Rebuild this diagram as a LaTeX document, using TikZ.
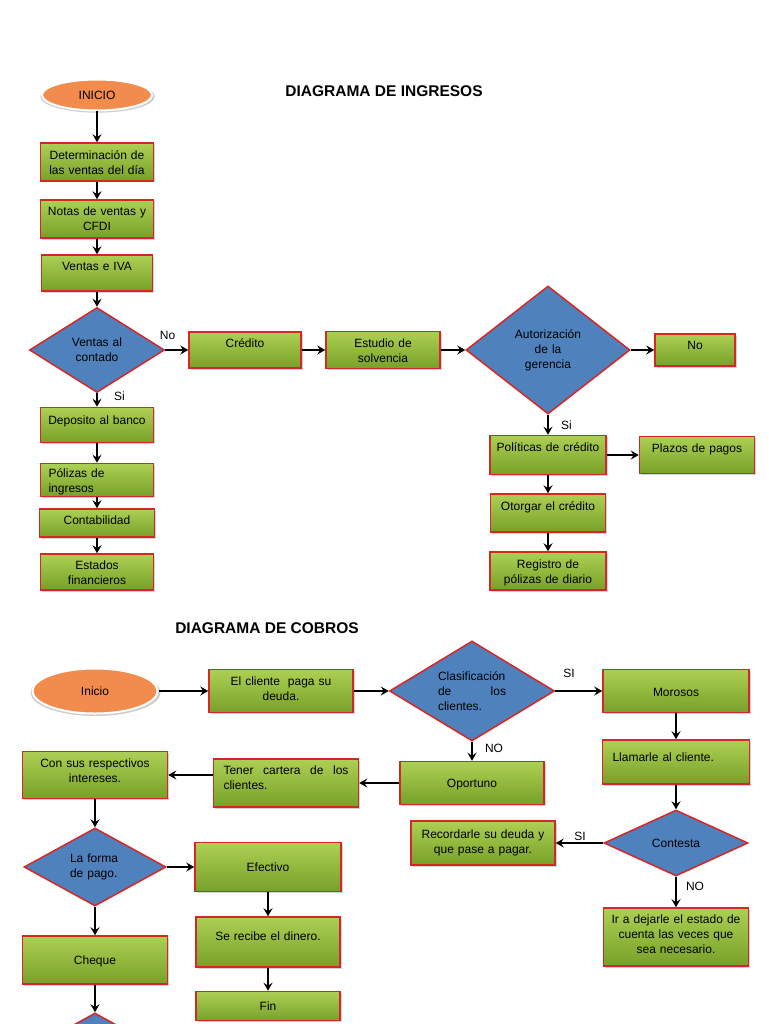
\documentclass[tikz,border=0pt]{standalone}
\usepackage{fontspec}
\setmainfont{Liberation Sans}
\usepackage{tikz}
\usetikzlibrary{positioning,shapes.geometric,arrows.meta,shadows}

\definecolor{boxred}{RGB}{214,38,38}
\definecolor{greentop}{RGB}{172,208,84}
\definecolor{greenbot}{RGB}{120,160,40}
\definecolor{diablue}{RGB}{79,129,189}
\definecolor{iniorange}{RGB}{241,140,78}
\newcommand{\boxfont}{\fontsize{12}{15}\selectfont}
\newcommand{\titlefont}{\fontsize{15.5}{18}\selectfont\bfseries}

\begin{document}
\begin{tikzpicture}[x=1pt,y=-1pt,>={Stealth[length=8pt,width=9pt,inset=3pt]},line width=2pt]
    \tikzstyle{every node}=[font=\boxfont,text=black];
    \tikzstyle{box}=[shape=rectangle,draw=boxred,line width=1.5pt,top color=greentop,bottom color=greenbot,drop shadow={shadow xshift=1.5pt,shadow yshift=-1.5pt,opacity=0.35},inner xsep=4pt,inner ysep=0pt,align=center,text width=105pt];
    \tikzstyle{leftbox}=[box,align=left];
    \tikzstyle{decision}=[shape=diamond,draw=boxred,line width=1.5pt,fill=diablue,inner sep=0pt,align=center];
    \tikzstyle{start}=[shape=ellipse,draw=white,line width=2pt,fill=iniorange,inner sep=0pt,drop shadow={shadow xshift=0.5pt,shadow yshift=-1.5pt,shadow scale=1.04,opacity=0.4}];
    \tikzstyle{lab}=[inner sep=1pt];
    \tikzstyle{title}=[font=\titlefont];

    \useasboundingbox (0,0) rectangle (768,1024);
    \clip (0,0) rectangle (768,1024);

    % diagrama de ingresos
    \node[title] (t1) at (384,91) {DIAGRAMA DE INGRESOS};
    \node[start,minimum width=110pt,minimum height=31pt] (ini1) at (97,95) {INICIO};
    \node[box,text height=16.5pt,text depth=21.5pt] (det) [below of=ini1,node distance=67pt] {Determinación de\\ las ventas del día};
    \node[box,text height=15.5pt,text depth=22.5pt] (notas) [below of=det,node distance=57pt] {Notas de ventas y\\ CFDI};
    \node[box,text width=103pt,text height=15.5pt,text depth=20.5pt] (iva) [below of=notas,node distance=54pt] {Ventas e IVA};
    \node[decision,text width=70pt,aspect=1.59,minimum width=135pt,minimum height=85pt] (dv) [below of=iva,node distance=77pt] {Ventas al\\ contado};
    \node[box,text height=17pt,text depth=18pt] (dep) [below of=dv,node distance=75pt] {Deposito al banco};
    \node[leftbox,inner xsep=8pt,text width=97pt,text height=14pt,text depth=19pt] (pol) [below of=dep,node distance=55pt] {Pólizas de\\ ingresos};
    \node[box,text width=107pt,text height=15.5pt,text depth=12.5pt] (cont) [below of=pol,node distance=43pt] {Contabilidad};
    \node[box,text height=15.5pt,text depth=20.5pt] (edos) [below of=cont,node distance=49pt] {Estados\\ financieros};

    \node[box,text width=104pt,text height=15.5pt,text depth=20.5pt] (cred) [right of=dv,node distance=148pt] {Crédito};
    \node[box,text width=106pt,text height=16pt,text depth=21pt] (est) [right of=cred,node distance=138pt] {Estudio de\\ solvencia};
    \node[decision,text width=80pt,aspect=1.28,minimum width=164pt,minimum height=128pt] (aut) [right of=est,node distance=165pt] {Autorización\\ de la\\ gerencia};
    \node[box,text width=72pt,text height=15.5pt,text depth=16.5pt] (nob) [right of=aut,node distance=147pt] {No};
    \node[box,text width=108pt,text height=16pt,text depth=23pt] (polc) [below of=aut,node distance=105pt] {Políticas de crédito};
    \node[box,text width=107pt,text height=16pt,text depth=21pt] (plaz) [right of=polc,node distance=149pt] {Plazos de pagos};
    \node[box,text width=107pt,text height=16.5pt,text depth=21.5pt] (otor) [below of=polc,node distance=58pt] {Otorgar el crédito};
    \node[box,text width=108pt,text height=16.5pt,text depth=21.5pt] (reg) [below of=otor,node distance=58pt] {Registro de\\ pólizas de diario};

    \draw[->] (ini1) -- (det);
    \draw[->] (det) -- (notas);
    \draw[->] (notas) -- (iva);
    \draw[->] (iva) -- (dv);
    \draw[->] (dv) -- node[lab,right=15pt,pos=0.25] {Si} (dep);
    \draw[->] (dep) -- (pol);
    \draw[->] (pol) -- (cont);
    \draw[->] (cont) -- (edos);
    \draw[->] (dv) -- node[lab,above=8pt,pos=0.1] {No} (cred);
    \draw[->] (cred) -- (est);
    \draw[->] (est) -- (aut);
    \draw[->] (aut) -- (nob);
    \draw[->] (aut) -- node[lab,right=11pt,pos=0.5] {Si} (polc);
    \draw[->] (polc) -- (plaz);
    \draw[->] (polc) -- (otor);
    \draw[->] (otor) -- (reg);

    % diagrama de cobros
    \node[title] (t2) at (267,628) {DIAGRAMA DE COBROS};
    \node[start,minimum width=125pt,minimum height=45pt] (ini2) at (95,691) {Inicio};
    \node[box,text width=136pt,text height=16pt,text depth=27pt] (cli) [right of=ini2,node distance=186pt] {El cliente~ paga su\\ deuda.};
    \node[decision,text width=68pt,aspect=1.65,minimum width=165pt,minimum height=100pt,align=left] (cla) [right of=cli,node distance=191pt] {Clasificación\\ de \hfill los\\ clientes.};
    \node[box,text width=138pt,text height=27pt,text depth=16pt] (mor) [right of=cla,node distance=204pt] {Morosos};
    \node[leftbox,inner xsep=10pt,text width=127pt,text height=21.5pt,text depth=22.5pt] (llam) [below of=mor,node distance=71pt] {Llamarle al cliente.};
    \node[decision,text width=60pt,aspect=2.18,minimum width=144pt,minimum height=66pt] (cont2) [below of=llam,node distance=81pt] {Contesta};
    \node[box,text width=136pt,text height=17.5pt,text depth=26.5pt] (reco) [left of=cont2,node distance=193pt] {Recordarle su deuda y\\ que pase a pagar.};
    \node[box,text width=137pt,text height=15.5pt,text depth=42.5pt] (ira) [below of=cont2,node distance=94pt] {Ir a dejarle el estado de\\ cuenta las veces que\\ sea necesario.};
    \node[box,text width=136pt,text height=26pt,text depth=17pt] (opo) [below of=cla,node distance=92pt] {Oportuno};
    \node[leftbox,inner xsep=10pt,text width=125pt,text height=15.5pt,text depth=32.5pt] (ten) [left of=opo,node distance=186pt] {Tener \hfill cartera \hfill de \hfill los\\ clientes.};
    \node[box,text width=137pt,text height=16pt,text depth=31pt] (con) at (95,775) {Con sus respectivos\\ intereses.};
    \node[decision,text width=50pt,aspect=1.82,minimum width=142pt,minimum height=78pt,align=left] (forma) [below of=con,node distance=92pt] {La forma\\ de pago.};
    \node[box,text width=138pt,text height=29pt,text depth=20pt] (efe) [right of=forma,node distance=173pt] {Efectivo};
    \node[box,text width=136pt,text height=23.5pt,text depth=26.5pt] (reci) [below of=efe,node distance=75pt] {Se recibe el dinero.};
    \node[box,text width=136pt,text height=19pt,text depth=10pt] (fin) [below of=reci,node distance=64pt] {Fin};
    \node[box,text width=137pt,text height=28.5pt,text depth=19.5pt] (cheq) [below of=forma,node distance=93pt] {Cheque};
    \node[decision,minimum width=142pt,minimum height=78pt] (forma2) [below of=cheq,node distance=92pt] {};

    \draw[->] (ini2) -- (cli);
    \draw[->] (cli) -- (cla);
    \draw[->] (cla) -- node[lab,anchor=south west,pos=0.13,yshift=11pt] {SI} (mor);
    \draw[->] (cla) -- node[lab,right=11pt,pos=0.33] {NO} (opo);
    \draw[->] (mor) -- (llam);
    \draw[->] (llam) -- (cont2);
    \draw[->] (cont2) -- node[lab,above=0pt,pos=0.49] {SI} (reco);
    \draw[->] (cont2) -- node[lab,right=8pt,pos=0.31] {NO} (ira);
    \draw[->] (opo) -- (ten);
    \draw[->] (ten.west |- con.east) -- (con.east);
    \draw[->] (con) -- (forma);
    \draw[->] (forma) -- (efe);
    \draw[->] (efe) -- (reci);
    \draw[->] (reci) -- (fin);
    \draw[->] (forma) -- (cheq);
    \draw[->] (cheq) -- (forma2);

\end{tikzpicture}
\end{document}
